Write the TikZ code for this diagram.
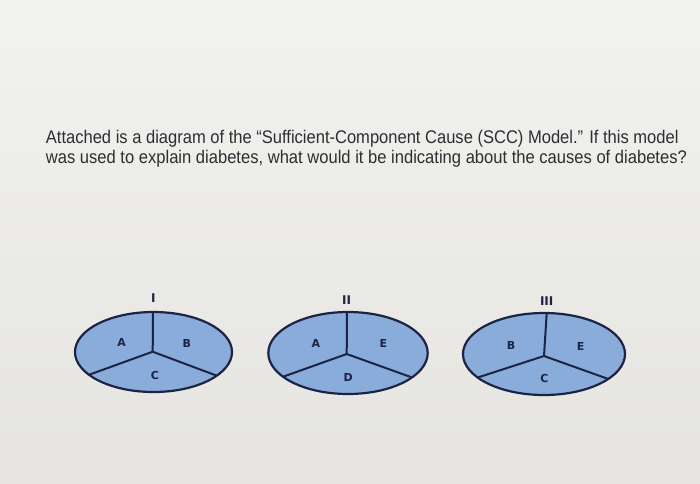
\documentclass[tikz,border=0pt]{standalone}
\usepackage{fontspec}
\setmainfont{Liberation Sans}
\newfontfamily\lblfont{DejaVu Sans}
\usetikzlibrary{calc}
\definecolor{bgtop}{HTML}{F2F2F0}
\definecolor{bgbot}{HTML}{E5E4E0}
\definecolor{pie}{HTML}{8AACDB}
\definecolor{ink}{HTML}{1D2443}
\definecolor{txt}{HTML}{2E2E32}
\begin{document}
\begin{tikzpicture}[x=1pt,y=-1pt,
  qline/.style={anchor=base west,inner sep=0pt,text=txt,font=\fontsize{18.3}{20}\selectfont},
  pieshape/.style={fill=pie,draw=ink,line width=2.2pt},
  pieline/.style={draw=ink,line width=2pt},
  lbl/.style={inner sep=0pt,text=ink,font=\lblfont\bfseries\fontsize{11}{11}\selectfont},
  num/.style={inner sep=0pt,text=ink,font=\lblfont\bfseries\fontsize{12}{12}\selectfont}]
\shade[top color=bgtop,bottom color=bgbot] (0,0) rectangle (700,483);
\useasboundingbox (0,0) rectangle (700,483);
% question
\node[qline] (q1) at (45.7,143.3) {\resizebox{632.6pt}{\height}{Attached is a diagram of the “Sufficient-Component Cause (SCC) Model.” If this model}};
\node[qline] (q2) at (45.7,163.3) {\resizebox{641pt}{\height}{was used to explain diabetes, what would it be indicating about the causes of diabetes?}};
% pie I
\coordinate (c1) at (153.5,352);
\coordinate (j1) at (152.7,351.7);
\coordinate (t1) at (153,312);
\filldraw[pieshape] (c1) ellipse [x radius=78.5, y radius=40];
\coordinate (l1) at ($(c1)+({78.5*cos(145.3)},{40*sin(145.3)})$);
\coordinate (r1) at ($(c1)+({78.5*cos(36.3)},{40*sin(36.3)})$);
\draw[pieline] (j1) -- (t1);
\draw[pieline] (j1) -- (l1);
\draw[pieline] (j1) -- (r1);
\node[num] (n1) at (153.3,298) {I};
\node[lbl] (a1) at (121.7,342) {A};
\node[lbl] (b1) at (186.7,343) {B};
\node[lbl] (cc1) at (155,375.5) {C};
% pie II
\coordinate (c2) at (348,353);
\coordinate (j2) at (346.7,354);
\coordinate (t2) at (347,312);
\filldraw[pieshape] (c2) ellipse [x radius=79.7, y radius=41];
\coordinate (l2) at ($(c2)+({79.7*cos(144.6)},{41*sin(144.6)})$);
\coordinate (r2) at ($(c2)+({79.7*cos(36.6)},{41*sin(36.6)})$);
\draw[pieline] (j2) -- (t2);
\draw[pieline] (j2) -- (l2);
\draw[pieline] (j2) -- (r2);
\node[num] (n2) at (346.7,300) {II};
\node[lbl] (a2) at (316,343) {A};
\node[lbl] (e2) at (383.3,343.5) {E};
\node[lbl] (d2) at (348.3,377) {D};
% pie III
\coordinate (c3) at (544,354);
\coordinate (j3) at (544,356);
\coordinate (t3) at (546.7,313);
\filldraw[pieshape] (c3) ellipse [x radius=81, y radius=41];
\coordinate (l3) at ($(c3)+({81*cos(145)},{41*sin(145)})$);
\coordinate (r3) at ($(c3)+({81*cos(37.5)},{41*sin(37.5)})$);
\draw[pieline] (j3) -- (t3);
\draw[pieline] (j3) -- (l3);
\draw[pieline] (j3) -- (r3);
\node[num] (n3) at (546.7,301.5) {III};
\node[lbl] (b3) at (511,345) {B};
\node[lbl] (e3) at (580.7,346) {E};
\node[lbl] (cc3) at (544.3,378.5) {C};
\end{tikzpicture}
\end{document}
